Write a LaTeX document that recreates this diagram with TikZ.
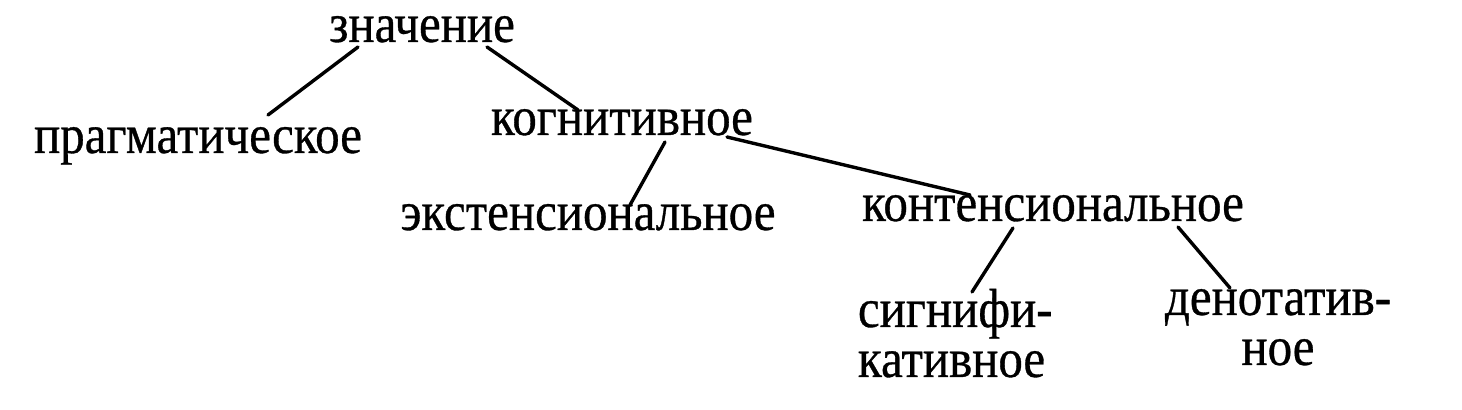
\documentclass[tikz,border=0pt]{standalone}
\usepackage{fontspec}
\setmainfont{Liberation Serif}[FakeStretch=0.89, FakeBold=0.6]
\tikzset{
  lbl/.style={inner sep=0pt, outer sep=0pt, font=\fontsize{27.5}{25}\selectfont},
  link/.style={line width=1.7pt, line cap=round}
}
\begin{document}
\begin{tikzpicture}[x=0.5pt,y=-0.5pt]
\useasboundingbox (0,0) rectangle (1462,410);
\node[lbl, anchor=base] (zn) at (422,42) {значение};
\node[lbl, anchor=base] (prag) at (198,153) {прагматическое};
\node[lbl, anchor=base] (kog) at (622,135) {когнитивное};
\node[lbl, anchor=base] (ext) at (588,230) {экстенсиональное};
\node[lbl, anchor=base] (kont) at (1053,221) {контенсиональное};
\node[lbl, anchor=base west] (sig) at (858,327) {\begin{tabular}[t]{@{}l@{}}сигнифи-\\кативное\end{tabular}};
\node[lbl, anchor=base] (den) at (1278,315) {\begin{tabular}[t]{@{}c@{}}денотатив-\\ное\end{tabular}};
\draw[link] ([shift={(-64,5)}]zn.base) -- ([shift={(70,-38)}]prag.base);
\draw[link] ([shift={(65,5)}]zn.base) -- ([shift={(-44,-25)}]kog.base);
\draw[link] ([shift={(43,7)}]kog.base) -- ([shift={(42,-25)}]ext.base);
\draw[link] ([shift={(105,2)}]kog.base) -- ([shift={(-83,-26)}]kont.base);
\draw[link] ([shift={(-40,7)}]kont.base) -- ([shift={(114,-35)}]sig.base west);
\draw[link] ([shift={(125,6)}]kont.base) -- ([shift={(-48,-27)}]den.base);
\end{tikzpicture}
\end{document}
